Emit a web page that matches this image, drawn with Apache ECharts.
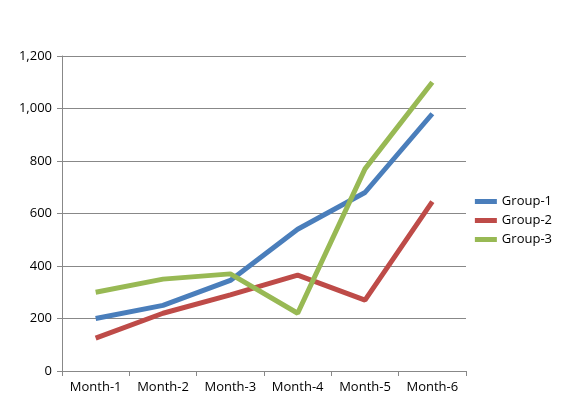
<!DOCTYPE html>
<html>
<head>
<meta charset="utf-8">
<script src="https://cdn.jsdelivr.net/npm/echarts@6/dist/echarts.min.js"></script>
<style>html,body{margin:0;padding:0;background:#fff}#chart{width:567px;height:416px}</style>
</head>
<body>
<div id="chart"></div>
<script>
const categories = ["Month-1", "Month-2", "Month-3", "Month-4", "Month-5", "Month-6"];
const group1 = [200, 250, 345, 540, 680, 980];
const group2 = [125, 220, 290, 365, 270, 645];
const group3 = [300, 350, 370, 220, 770, 1100];
const yTicks = { min: 0, max: 1200, interval: 200 };

const chart = echarts.init(document.getElementById("chart"), null, { renderer: "canvas" });
const font = "'Open Sans', 'Liberation Sans', sans-serif";
const mk = (name, data, color) => ({
  name, type: "line", data, symbol: "none",
  lineStyle: { width: 5, color }, itemStyle: { color }
});
chart.setOption({
  animation: false,
  textStyle: { fontFamily: font },
  grid: { left: 62, right: 101, top: 56, bottom: 45 },
  legend: {
    orient: "vertical", right: 10, top: 190, itemGap: 6,
    icon: "rect", itemWidth: 22, itemHeight: 5,
    textStyle: { fontSize: 13, color: "#000", fontFamily: font },
    data: ["Group-1", "Group-2", "Group-3"]
  },
  xAxis: {
    type: "category", data: categories, boundaryGap: true,
    axisLine: { lineStyle: { color: "#888" } },
    axisTick: { show: true, alignWithLabel: false, lineStyle: { color: "#888" } },
    axisLabel: { color: "#000", fontSize: 13, margin: 10 }
  },
  yAxis: {
    type: "value", min: yTicks.min, max: yTicks.max, interval: yTicks.interval,
    axisLine: { show: true, lineStyle: { color: "#888" } },
    axisTick: { show: true, lineStyle: { color: "#888" } },
    axisLabel: { color: "#000", fontSize: 13, margin: 10 },
    splitLine: { lineStyle: { color: "#888" } }
  },
  series: [
    mk("Group-1", group1, "#4A7EBB"),
    mk("Group-2", group2, "#BE4B48"),
    mk("Group-3", group3, "#98B954")
  ]
});
</script>
</body>
</html>
